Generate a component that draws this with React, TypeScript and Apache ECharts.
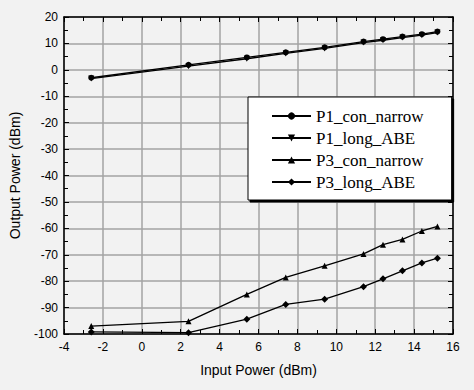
import React, { useEffect, useRef } from "react";
import * as echarts from "echarts";

const inputPower = [-2.6, 2.4, 5.4, 7.4, 9.4, 11.4, 12.4, 13.4, 14.4, 15.2];
const p1ConNarrow = [-3.0, 1.9, 4.7, 6.6, 8.5, 10.7, 11.6, 12.6, 13.5, 14.5];
const p1LongABE = [-3.3, 1.4, 4.2, 6.2, 8.1, 10.3, 11.2, 12.2, 13.1, 14.1];
const p3ConNarrow = [-97, -95.2, -85, -78.6, -74.2, -69.7, -66.2, -64.2, -61, -59.3];
const p3LongABE = [-99.2, -99.5, -94.4, -88.8, -86.8, -82.1, -79.1, -76.1, -73.1, -71.3];
const seriesNames = ["P1_con_narrow", "P1_long_ABE", "P3_con_narrow", "P3_long_ABE"];

const pairs = (ys: number[]) => inputPower.map((x, i) => [x, ys[i]]);

export default function App() {
  const ref = useRef<HTMLDivElement>(null);
  useEffect(() => {
    if (!ref.current) return;
    const chart = echarts.init(ref.current, null, { renderer: "svg" });
    const sans = "Liberation Sans, Arial, sans-serif";
    const gridLine = { show: true, lineStyle: { color: "#a3a3a3", width: 1.5 } };
    const axisLine = { show: true, onZero: false, lineStyle: { color: "#000", width: 1.5 } };
    const tick = { show: true, inside: true, length: 5, lineStyle: { color: "#000", width: 1 } };
    const minor = { show: true, splitNumber: 2, length: 4, lineStyle: { color: "#000", width: 1 } };
    const lineSeries = (name: string, ys: number[], symbol: string, rotate = 0, size = 6) => ({
      name,
      type: "line",
      data: pairs(ys),
      symbol,
      symbolSize: size,
      symbolRotate: rotate,
      showSymbol: true,
      itemStyle: { color: "#000" },
      lineStyle: { color: "#000", width: 1.3 },
      xAxisIndex: 0,
      yAxisIndex: 0,
    });
    chart.setOption({
      animation: false,
      backgroundColor: "#f2f2f2",
      grid: { left: 64, right: 21, top: 17, bottom: 56, show: false },
      legend: {
        orient: "vertical",
        left: 248,
        top: 97,
        data: seriesNames,
        itemWidth: 39,
        itemHeight: 9,
        itemGap: 2,
        padding: [9, 28, 8, 23],
        backgroundColor: "#ffffff",
        borderColor: "#000",
        borderWidth: 1,
        shadowColor: "#000",
        shadowOffsetX: 2,
        shadowOffsetY: 2,
        shadowBlur: 0,
        textStyle: { fontFamily: "Liberation Serif, Times New Roman, serif", fontSize: 17, lineHeight: 20, color: "#000" },
      },
      xAxis: [
        {
          type: "value",
          position: "bottom",
          min: -4,
          max: 16,
          interval: 2,
          name: "Input Power (dBm)",
          nameLocation: "middle",
          nameGap: 29,
          nameTextStyle: { fontFamily: sans, fontSize: 14, color: "#000" },
          axisLine,
          axisTick: tick,
          minorTick: minor,
          splitLine: gridLine,
          axisLabel: { fontFamily: sans, fontSize: 12, color: "#000", margin: 7 },
        },
        {
          type: "value",
          position: "top",
          min: -4,
          max: 16,
          interval: 2,
          axisLine,
          axisTick: tick,
          minorTick: minor,
          splitLine: { show: false },
          axisLabel: { show: false },
        },
      ],
      yAxis: [
        {
          type: "value",
          position: "left",
          min: -100,
          max: 20,
          interval: 10,
          name: "Output Power (dBm)",
          nameLocation: "middle",
          nameGap: 42,
          nameTextStyle: { fontFamily: sans, fontSize: 14, color: "#000" },
          axisLine,
          axisTick: tick,
          minorTick: minor,
          splitLine: gridLine,
          axisLabel: { fontFamily: sans, fontSize: 12, color: "#000", margin: 6 },
        },
        {
          type: "value",
          position: "right",
          min: -100,
          max: 20,
          interval: 10,
          axisLine,
          axisTick: tick,
          minorTick: minor,
          splitLine: { show: false },
          axisLabel: { show: false },
        },
      ],
      series: [
        lineSeries(seriesNames[0], p1ConNarrow, "circle", 0, 6),
        lineSeries(seriesNames[1], p1LongABE, "triangle", 180, 6),
        lineSeries(seriesNames[2], p3ConNarrow, "triangle", 0, 6),
        lineSeries(seriesNames[3], p3LongABE, "diamond", 0, 7),
      ],
    });
    return () => chart.dispose();
  }, []);
  return <div ref={ref} style={{ width: 474, height: 390, position: "absolute", left: 0, top: 0 }} />;
}
